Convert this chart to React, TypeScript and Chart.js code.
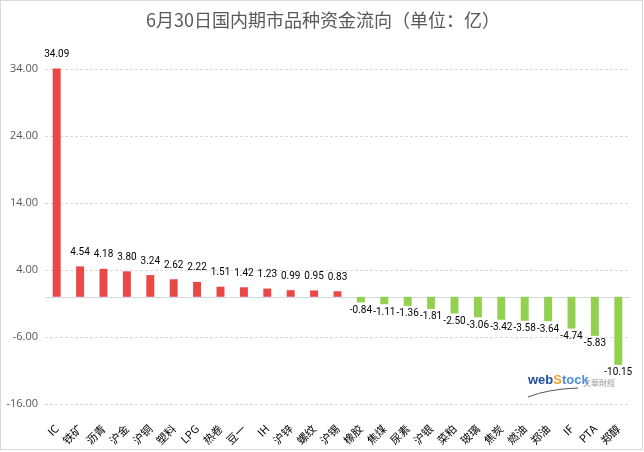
import React, { useEffect, useRef } from "react";
import { Chart, registerables } from "chart.js";

Chart.register(...registerables);

const TITLE = "6月30日国内期市品种资金流向（单位：亿）";

const categories = [
  "IC", "铁矿", "沥青", "沪金", "沪铜", "塑料", "LPG", "热卷", "豆一", "IH", "沪锌", "螺纹", "沪锡",
  "橡胶", "焦煤", "尿素", "沪银", "菜粕", "玻璃", "焦炭", "燃油", "郑油", "IF", "PTA", "郑醇",
];

const flows = [
  34.09, 4.54, 4.18, 3.8, 3.24, 2.62, 2.22, 1.51, 1.42, 1.23, 0.99, 0.95, 0.83,
  -0.84, -1.11, -1.36, -1.81, -2.5, -3.06, -3.42, -3.58, -3.64, -4.74, -5.83, -10.15,
];

const yMin = -16;
const yMax = 34;
const yStep = 10;

const RED = "#ea4747";
const GREEN = "#92d050";
const TEXT = "#595959";
const GRID = "#d9d9d9";

const extrasPlugin = {
  id: "extras",
  beforeDraw(chart: any) {
    const ctx = chart.ctx;
    ctx.save();
    ctx.fillStyle = "#ffffff";
    ctx.fillRect(0, 0, chart.width, chart.height);
    ctx.fillStyle = TEXT;
    ctx.font = '18px "Noto Sans CJK SC", sans-serif';
    ctx.textAlign = "center";
    ctx.textBaseline = "middle";
    ctx.fillText(TITLE, 323, 20);
    ctx.restore();
  },
  beforeDatasetsDraw(chart: any) {
    const ctx = chart.ctx;
    const y0 = chart.scales.y.getPixelForValue(0);
    const { left, right } = chart.chartArea;
    ctx.save();
    ctx.strokeStyle = "#d3d9df";
    ctx.lineWidth = 1;
    ctx.beginPath();
    ctx.moveTo(left, Math.round(y0) + 0.5);
    ctx.lineTo(right, Math.round(y0) + 0.5);
    ctx.stroke();
    ctx.restore();
  },
  afterDatasetsDraw(chart: any) {
    const ctx = chart.ctx;
    const meta = chart.getDatasetMeta(0);
    ctx.save();
    ctx.fillStyle = "#000000";
    ctx.font = '10px "Liberation Sans Narrow", Roboto, sans-serif';
    ctx.textAlign = "center";
    ctx.textBaseline = "middle";
    meta.data.forEach((bar: any, i: number) => {
      const v = flows[i];
      const y = v >= 0 ? bar.y - 14 : bar.y + 8;
      ctx.fillText(v.toFixed(2), bar.x, y);
    });
    // watermark logo
    ctx.textAlign = "left";
    ctx.textBaseline = "alphabetic";
    ctx.font = 'bold 13px "Liberation Sans", Arial, sans-serif';
    ctx.fillStyle = "#234f9e";
    ctx.fillText("web", 528, 384);
    const w1 = ctx.measureText("web").width;
    ctx.fillStyle = "#f0a028";
    ctx.fillText("S", 528 + w1, 384);
    const w2 = ctx.measureText("S").width;
    ctx.fillStyle = "#4a90d6";
    ctx.fillText("tock", 528 + w1 + w2, 384);
    ctx.font = '8px "Noto Sans CJK TC", sans-serif';
    ctx.fillStyle = "#9a9a9a";
    ctx.fillText("文華財經", 583, 386);
    ctx.strokeStyle = "#555555";
    ctx.lineWidth = 1;
    ctx.beginPath();
    ctx.moveTo(528, 397);
    ctx.quadraticCurveTo(548, 389, 578, 388);
    ctx.stroke();
    ctx.restore();
  },
};

export default function App() {
  const ref = useRef<HTMLCanvasElement | null>(null);

  useEffect(() => {
    if (!ref.current) return;
    const chart = new Chart(ref.current, {
      type: "bar",
      data: {
        labels: categories,
        datasets: [
          {
            data: flows,
            backgroundColor: flows.map((v) => (v >= 0 ? RED : GREEN)),
            borderWidth: 0,
            categoryPercentage: 1,
            barPercentage: 0.34,
            clip: false as any,
          },
        ],
      },
      options: {
        animation: false,
        responsive: false,
        maintainAspectRatio: false,
        layout: { padding: { top: 69, right: 14, left: 0, bottom: 0 } },
        plugins: {
          legend: { display: false },
          title: { display: false },
          tooltip: { enabled: false },
        },
        scales: {
          x: {
            grid: { display: false },
            border: { display: false },
            ticks: {
              autoSkip: false,
              maxRotation: 45,
              minRotation: 45,
              padding: 10,
              color: "#000000",
              font: { size: 11, family: '"Noto Sans CJK SC", sans-serif' },
            },
            afterFit(scale: any) {
              scale.height = 48;
            },
          },
          y: {
            min: yMin,
            max: yMax,
            ticks: {
              stepSize: yStep,
              padding: 7,
              color: TEXT,
              font: { size: 11, family: '"Open Sans", sans-serif' },
              callback: (v: any) => Number(v).toFixed(2),
            },
            grid: { color: GRID, drawTicks: false, lineWidth: 1 },
            border: { display: false, dash: [3, 2] },
            afterFit(scale: any) {
              scale.width = 45;
            },
          },
        },
      },
      plugins: [extrasPlugin],
    });
    return () => chart.destroy();
  }, []);

  return (
    <div style={{ position: "absolute", left: 0, top: 0, width: 644, height: 452 }}>
      <canvas ref={ref} width={644} height={452} style={{ position: "absolute", left: 0, top: 0, width: 644, height: 452 }} />
      <div
        style={{
          position: "absolute",
          left: 0,
          top: 0,
          width: 643,
          height: 450,
          border: "1px solid #d9d9d9",
          boxSizing: "border-box",
          pointerEvents: "none",
        }}
      />
    </div>
  );
}
